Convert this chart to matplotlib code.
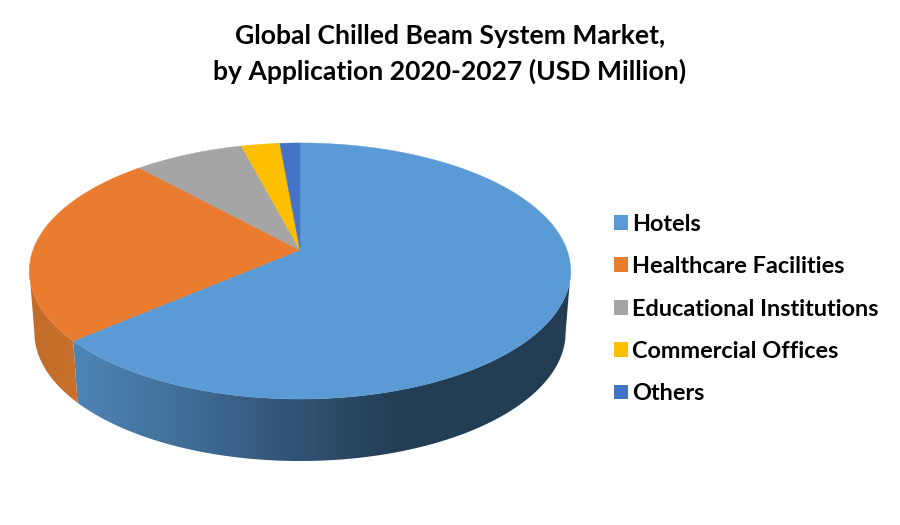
import numpy as np
import matplotlib
matplotlib.use('Agg')
import matplotlib.pyplot as plt
from matplotlib.colors import LinearSegmentedColormap
from matplotlib.patches import Patch, Polygon

title = 'Global Chilled Beam System Market,\nby Application 2020-2027 (USD Million)'
categories = ['Hotels', 'Healthcare Facilities', 'Educational Institutions',
              'Commercial Offices', 'Others']
shares = [63.7, 24.5, 7.7, 2.7, 1.4]
colors = ['#5a9ad5', '#ea7c30', '#a5a5a5', '#fdbf00', '#4472c4']

plt.rcParams['font.family'] = ['Lato', 'DejaVu Sans']

KEEN = 0.164  # perspective strength of the tilted disc


def project(theta, x0, y0, bx, ay):
    ''' Angle clockwise from 12 o'clock on the disc -> pixel position '''
    u, v = np.sin(theta), np.cos(theta)
    w = 1 + KEEN*v
    return x0 + bx*u/w, y0 - ay*v/w


def top(theta):
    return project(theta, 300, 250, 267, 124.6)


def bottom(theta):
    return project(theta, 300, 311.5, 262, 125)


def wall(ax, start, stop, cmap, x_range):
    ''' Shaded rim between two angles, gradient running along x '''
    t = np.linspace(start, stop, 200)
    xt, yt = top(t)
    xb, yb = bottom(t)
    pts = np.vstack([np.column_stack([xt, yt]),
                     np.column_stack([xb, yb])[::-1]])
    grad = np.linspace(0, 1, 256).reshape(1, -1)
    im = ax.imshow(grad, cmap=cmap, extent=[x_range[0], x_range[1], 525, 0],
                   aspect='auto', zorder=1, interpolation='bilinear')
    clip = Polygon(pts, closed=True, transform=ax.transData)
    im.set_clip_path(clip)


fig = plt.figure(figsize=(9, 5.25), dpi=100, facecolor='white')
ax = fig.add_axes([0, 0, 1, 1])

edges = np.concatenate([[0], np.cumsum(shares)])/np.sum(shares)*2*np.pi

# The rim is seen from the widest point on either side of the disc
widest = np.arccos(-KEEN)

# Rim first, the top of the disc goes over it
blue_rim = LinearSegmentedColormap.from_list(
    'blue_rim', [(0, '#4f87b8'), (0.19, '#44729e'), (0.40, '#34587a'),
                 (0.65, '#233d53'), (1, '#233d53')])
orange_rim = LinearSegmentedColormap.from_list(
    'orange_rim', ['#c26c2a', '#c9722c'])
wall(ax, widest, edges[1], blue_rim, (65, 580))
wall(ax, edges[1], 2*np.pi - widest, orange_rim, (25, 85))

# Top faces
for i, color in enumerate(colors):
    t = np.linspace(edges[i], edges[i+1], 200)
    x, y = top(t)
    pts = np.column_stack([np.r_[300, x], np.r_[250, y]])
    ax.add_patch(Polygon(pts, closed=True, facecolor=color, edgecolor=color,
                         lw=0.3, zorder=2))

ax.set_xlim(0, 900)
ax.set_ylim(525, 0)
ax.axis('off')

ax.text(450, 54, title, ha='center', va='center', fontsize=19.1,
        fontweight='bold', color='black', linespacing=1.53)

handles = [Patch(facecolor=c, edgecolor='none') for c in colors]
fig.legend(handles, categories, loc='center left',
           bbox_to_anchor=(0.6587, 0.4113), frameon=False,
           prop={'weight': 'bold', 'size': 16.9},
           handlelength=0.6, handleheight=0.6, handletextpad=0.17,
           labelspacing=0.91, labelcolor='black')

fig.savefig('out.png', dpi=100, facecolor='white')
